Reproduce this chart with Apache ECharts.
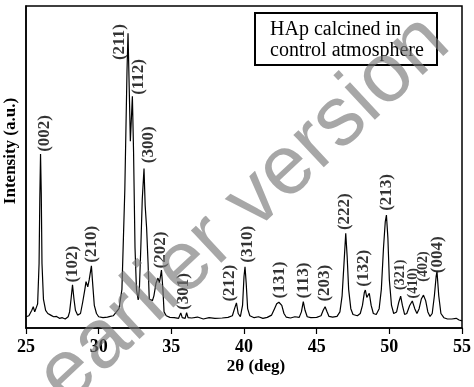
<!DOCTYPE html>
<html>
<head>
<meta charset="utf-8">
<script src="https://cdn.jsdelivr.net/npm/echarts@6/dist/echarts.min.js"></script>
<style>html,body{margin:0;padding:0;background:#fff}#c{width:474px;height:387px}</style>
</head>
<body>
<div id="c"></div>
<script>
// 2-theta positions (deg) of the measured pattern
const twoTheta = [25.0,25.2,25.4,25.5,25.6,25.7,25.8,25.9,25.95,26.0,26.05,26.1,26.2,26.35,26.5,26.7,26.9,27.1,27.3,27.5,27.7,27.9,28.0,28.1,28.2,28.3,28.4,28.55,28.75,28.9,29.05,29.13,29.25,29.35,29.5,29.6,29.7,29.85,30.0,30.3,30.6,30.8,31.0,31.1,31.4,31.6,31.8,31.95,32.02,32.1,32.18,32.25,32.32,32.4,32.5,32.6,32.72,32.8,32.9,33.0,33.12,33.2,33.3,33.4,33.48,33.6,33.7,33.8,33.95,34.08,34.18,34.32,34.42,34.5,34.65,34.9,35.2,35.5,35.65,35.75,35.95,36.05,36.15,36.4,36.8,37.2,37.6,38.0,38.5,38.9,39.2,39.35,39.48,39.6,39.75,39.9,40.0,40.07,40.15,40.25,40.4,40.7,41.0,41.3,41.6,41.9,42.1,42.25,42.4,42.5,42.6,42.75,42.9,43.2,43.5,43.8,43.95,44.08,44.2,44.35,44.6,45.0,45.3,45.45,45.58,45.7,45.85,46.1,46.4,46.6,46.75,46.88,47.0,47.1,47.2,47.35,47.5,47.8,48.0,48.15,48.28,48.35,48.45,48.52,48.62,48.75,48.9,49.1,49.3,49.45,49.6,49.72,49.8,49.9,50.0,50.15,50.3,50.5,50.65,50.78,50.9,51.05,51.2,51.4,51.58,51.75,51.9,52.05,52.2,52.35,52.5,52.65,52.8,52.95,53.1,53.22,53.28,53.4,53.55,53.75,54.0,54.3,54.6,54.8,55.0];
// intensity (a.u.)
const intensity = [3.5,3.8,5.5,6.6,5.0,5.5,7.5,20,40,54,42,20,9,5.5,4.5,4.0,3.5,3.6,3.0,3.2,2.8,3.5,5,9,13.4,9,5.5,4.0,4.5,8,12,14.4,12.8,15,19.3,13,7,4.5,3.5,3.2,3.4,3.6,3.8,4.2,6,12,43,80,91.5,75,58,65,72,55,25,12,8.7,12,25,40,49.5,38,31,20,9,8.7,8.5,10,14,15.5,14,18,12,5,3.8,3.3,3.2,3.0,4.7,3.2,3.0,4.8,3.2,3.1,3.4,2.8,3.2,3.0,3.1,3.3,3.8,6,7.8,4.5,3.5,7,16,19,14,6,3.8,3.2,3.5,3.0,3.3,4,6,7.5,8,8.2,7,4.5,3.4,3.1,3.5,3.3,5,8.2,5.5,3.5,3.2,3.3,3.8,5.5,6.6,5.2,3.6,3.4,3.6,5,10,20,29.4,22,12,6,4.2,3.8,4.5,7,11,11.8,9.5,9,10.8,7,4.5,4.2,6,12,25,33,35.1,28,15,7,4.5,5,8,9.9,7,4.2,4.5,7,8.4,6,4.5,6,9,10.2,8.5,5,3.6,4.5,10,16,17.5,10,4.5,3.2,2.8,2.8,3.0,2.5,2.2];
// peak annotations: Miller indices and where each label starts
const peakNames = ['(002)','(102)','(210)','(211)','(112)','(300)','(202)','(301)','(212)','(310)','(131)','(113)','(203)','(222)','(132)','(213)','(321)','(410)','(402)','(004)'];
const peakLabelX = [26.31,28.2,29.5,31.47,32.78,33.47,34.29,35.84,39.04,40.28,42.48,44.09,45.58,46.95,48.2,49.82,50.74,51.64,52.32,53.29];
const peakLabelY = [54.7,14.1,20.3,83.2,72.4,51.2,18.5,5.6,8.2,20.3,9.2,9.2,8.2,30.4,12.8,36.4,11.8,9.2,14.4,17];
const smallLabels = ['(321)','(410)','(402)'];
const xTicks = [25,30,35,40,45,50,55];

const serif = "'Liberation Serif','Times New Roman',serif";
const chart = echarts.init(document.getElementById('c'));
const lineData = twoTheta.map((x,i)=>[x,intensity[i]]);
const labelData = peakNames.map((n,i)=>({
  value:[peakLabelX[i],peakLabelY[i]], name:n,
  label: smallLabels.includes(n) ? {fontSize:14} : undefined
}));
chart.setOption({
  animation:false,
  grid:{left:26,right:12,top:6,bottom:59,show:true,borderColor:'#000',borderWidth:1.5,backgroundColor:'transparent'},
  xAxis:{type:'value',min:xTicks[0],max:xTicks[xTicks.length-1],interval:5,
    axisLine:{show:true,onZero:false,lineStyle:{color:'#000',width:1.5}},
    axisTick:{show:true,inside:false,length:6,lineStyle:{color:'#000',width:1.2}},
    axisLabel:{color:'#000',fontFamily:serif,fontWeight:'bold',fontSize:18,margin:10},
    splitLine:{show:false}},
  yAxis:{type:'value',min:0,max:100,
    axisLine:{show:true,onZero:false,lineStyle:{color:'#000',width:1.5}},
    axisTick:{show:false},axisLabel:{show:false},splitLine:{show:false}},
  series:[
    {type:'line',data:lineData,showSymbol:false,symbol:'none',
     lineStyle:{color:'#000',width:1.2},z:3},
    {type:'scatter',data:labelData,symbolSize:0,z:4,
     label:{show:true,formatter:p=>p.name,rotate:90,position:[0,0],align:'left',verticalAlign:'middle',
       color:'#000',fontFamily:serif,fontWeight:'bold',fontSize:17}}
  ],
  graphic:[
    {type:'text',x:256,y:367,style:{text:'2θ (deg)',fontFamily:serif,fontWeight:'bold',fontSize:17,fill:'#000',align:'center',verticalAlign:'middle'}},
    {type:'text',x:11,y:151,rotation:Math.PI/2,style:{text:'Intensity (a.u.)',fontFamily:serif,fontWeight:'bold',fontSize:17,fill:'#000',align:'center',verticalAlign:'middle'}},
    {type:'rect',shape:{x:255,y:13,width:182,height:52},style:{fill:'#fff',stroke:'#000',lineWidth:2},z:10},
    {type:'text',x:270,y:30,style:{text:'HAp calcined in',fontFamily:serif,fontSize:20,fill:'#000',align:'left',verticalAlign:'middle'},z:11},
    {type:'text',x:270,y:51,style:{text:'control atmosphere',fontFamily:serif,fontSize:20,fill:'#000',align:'left',verticalAlign:'middle'},z:11},
    {type:'text',x:244,y:210,rotation:0.75,style:{text:'earlier version',fontFamily:"'Liberation Sans',Arial,sans-serif",fontSize:84,fill:'rgba(120,120,120,0.65)',align:'center',verticalAlign:'middle'},z:20}
  ]
});
</script>
</body>
</html>
